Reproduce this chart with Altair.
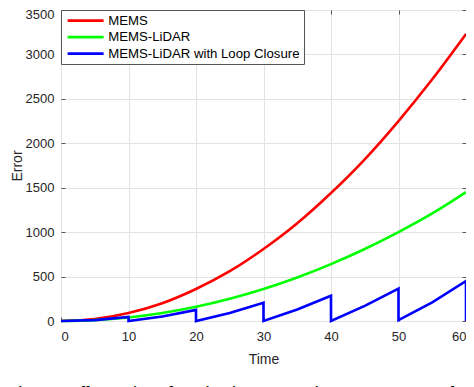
import altair as alt
import pandas as pd

# ---- data ----
time_grid = [0, 5, 10, 15, 20, 25, 30, 35, 40, 45, 50, 55, 60]
mems = [0, 22, 90, 200, 360, 560, 810, 1100, 1440, 1820, 2250, 2720, 3230]
mems_lidar = [0, 10, 40, 90, 160, 250, 360, 490, 640, 810, 1000, 1210, 1450]
loop_time = [0, 5, 10, 10, 15, 20, 20, 25, 30, 30, 35, 40, 40, 45, 50, 50, 55, 60, 60]
loop_error = [0, 10, 45, 0, 50, 125, 0, 90, 205, 0, 130, 285, 0, 170, 365, 10, 210, 450, 0]
series_names = ["MEMS", "MEMS-LiDAR", "MEMS-LiDAR with Loop Closure"]
series_colors = ["#ff0000", "#00ff00", "#0000ff"]
x_ticks = [0, 10, 20, 30, 40, 50, 60]
y_ticks = [0, 500, 1000, 1500, 2000, 2500, 3000, 3500]
caption = "Figure 1. Illustration of Navigation Error Divergence curves. The"

smooth_df = pd.DataFrame({
    "Time": time_grid + time_grid,
    "Error": mems + mems_lidar,
    "Series": [series_names[0]] * len(time_grid) + [series_names[1]] * len(time_grid),
})
loop_df = pd.DataFrame({
    "Time": loop_time,
    "Error": loop_error,
    "Series": [series_names[2]] * len(loop_time),
    "idx": list(range(len(loop_time))),
})
cap_df = pd.DataFrame({"caption": [caption]})

FONT = "Arial"
TXT = "#262626"
x_scale = alt.Scale(domain=[0, 60], nice=False)
y_scale = alt.Scale(domain=[0, 3500], nice=False)

color = alt.Color(
    "Series:N",
    scale=alt.Scale(domain=series_names, range=series_colors),
    legend=alt.Legend(
        title=None, orient="top-left", offset=0,
        strokeColor="#555555", fillColor="white", padding=4, cornerRadius=0,
        symbolType="M-4,0H4", symbolSize=81, symbolStrokeWidth=2.8,
        symbolOffset=14, labelOffset=16,
        labelFont=FONT, labelFontSize=13.2, labelColor="black", labelLimit=400,
        rowPadding=2.5,
    ),
)

smooth = alt.Chart(smooth_df).mark_line(interpolate="monotone", strokeWidth=2.6).encode(
    x=alt.X("Time:Q", scale=x_scale,
            axis=alt.Axis(orient="bottom", values=x_ticks, title="Time", ticks=False, domain=False,
                          labelPadding=9, labelFont=FONT, labelFontSize=13, labelColor=TXT,
                          titleFont=FONT, titleFontSize=14, titleFontWeight="normal", titleColor=TXT,
                          titlePadding=9, grid=True, gridColor="#e3e3e3")),
    y=alt.Y("Error:Q", scale=y_scale,
            axis=alt.Axis(orient="left", values=y_ticks, format="d", title="Error", ticks=False,
                          domain=False, labelPadding=7, labelFont=FONT, labelFontSize=13,
                          labelColor=TXT,
                          labelOffset={"condition": {"test": "datum.value == 3500", "value": 4},
                                       "value": 0},
                          titleFont=FONT, titleFontSize=14, titleFontWeight="normal", titleColor=TXT,
                          titlePadding=1, grid=True, gridColor="#e3e3e3")),
    color=color,
)

loop = alt.Chart(loop_df).mark_line(strokeWidth=2.6).encode(
    x=alt.X("Time:Q", scale=x_scale,
            axis=alt.Axis(orient="bottom", values=x_ticks, title=None, labels=False, domain=False,
                          grid=False, ticks=True, tickSize=4, offset=-4, tickColor="#555555")),
    y=alt.Y("Error:Q", scale=y_scale,
            axis=alt.Axis(orient="left", values=y_ticks, title=None, labels=False, domain=False,
                          grid=False, ticks=True, tickSize=4, offset=-4, tickColor="#555555")),
    color=color,
    order=alt.Order("idx:Q"),
)

ghost = alt.Chart(loop_df).mark_line(opacity=0).encode(
    x=alt.X("Time:Q", scale=x_scale,
            axis=alt.Axis(orient="top", values=x_ticks, title=None, labels=False, domain=False,
                          grid=False, ticks=True, tickSize=4, offset=-4, tickColor="#555555")),
    y=alt.Y("Error:Q", scale=y_scale,
            axis=alt.Axis(orient="right", values=y_ticks, title=None, labels=False, domain=False,
                          grid=False, ticks=True, tickSize=4, offset=-4, tickColor="#555555")),
)

cap = alt.Chart(cap_df).mark_text(
    align="left", baseline="alphabetic", font="Liberation Serif", fontSize=16.5,
    fontWeight="bold", color="black",
).encode(text="caption:N", x=alt.value(-53), y=alt.value(388))

chart = alt.layer(smooth, loop, ghost, cap).resolve_axis(x="independent", y="independent").properties(
    width=405, height=311,
    autosize=alt.AutoSizeParams(type="none"),
    padding={"left": 53, "top": 2, "right": 0, "bottom": 66},
).configure_view(stroke="#555555", strokeWidth=1)

chart.save("out.html", embed_options={"renderer": "svg", "actions": False})
